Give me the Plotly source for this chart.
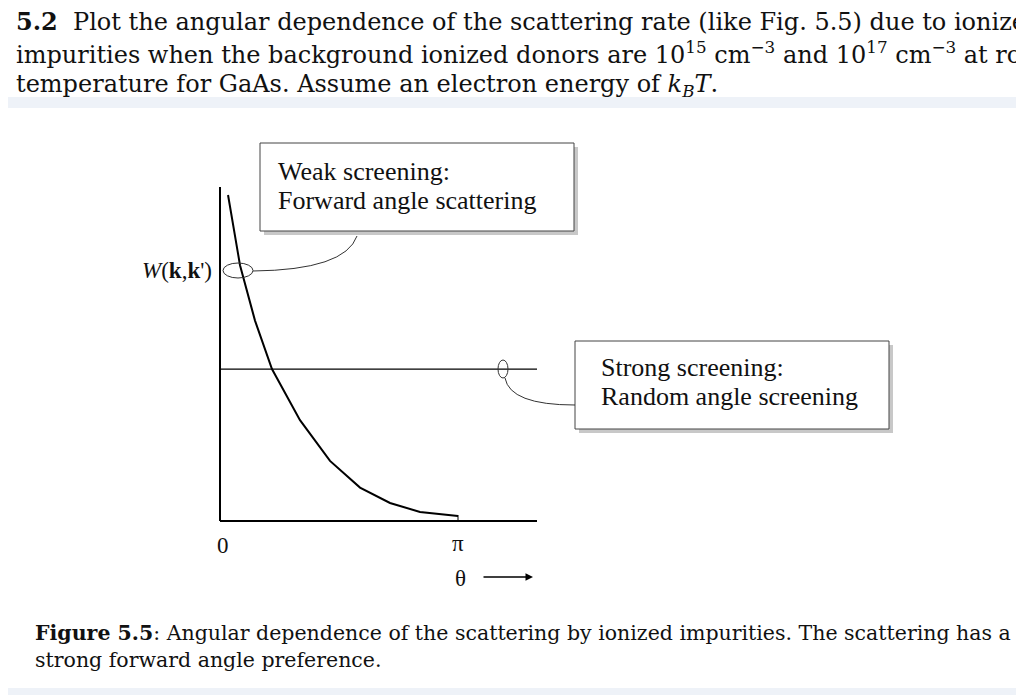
import plotly.graph_objects as go

# Data (normalized scattering rate vs angle)
theta = [0.106, 0.264, 0.462, 0.686, 1.056, 1.452, 1.848, 2.244, 2.64, 3.1416]
w_weak = [0.976, 0.766, 0.60, 0.455, 0.302, 0.18, 0.10, 0.054, 0.027, 0.015]
theta_strong = [0.0, 4.184]
w_strong = [0.455, 0.455]

W, H = 1024, 695
OFF = 8  # page body margin
FW, FH = W - OFF, H - OFF
SERIF = "Liberation Serif, DejaVu Serif, serif"
CM = "DejaVu Serif, serif"

def px(p):
    return (p - OFF) / FW

def py(p):
    return 1 - (p - OFF) / FH

fig = go.Figure()
fig.add_trace(go.Scatter(x=[OFF, W], y=[OFF, H], mode="markers", marker=dict(opacity=0),
                         hoverinfo="skip", showlegend=False))
fig.add_trace(go.Scatter(x=theta, y=w_weak, mode="lines", line=dict(color="black", width=2),
                         xaxis="x2", yaxis="y2", showlegend=False))
fig.add_trace(go.Scatter(x=theta_strong, y=w_strong, mode="lines", line=dict(color="black", width=1.2),
                         xaxis="x2", yaxis="y2", showlegend=False))

ax_hidden = dict(visible=False, showgrid=False, zeroline=False)
fig.update_layout(
    width=FW, height=FH, margin=dict(l=0, r=0, t=0, b=0),
    paper_bgcolor="white", plot_bgcolor="rgba(0,0,0,0)",
    xaxis=dict(range=[OFF, W], domain=[0, 1], **ax_hidden),
    yaxis=dict(range=[H, OFF], domain=[0, 1], **ax_hidden),
    xaxis2=dict(range=[0, 4.184], domain=[px(220), px(537)], anchor="y2",
                showgrid=False, zeroline=False, showline=False, ticks="", showticklabels=False),
    yaxis2=dict(range=[0, 1], domain=[py(521), py(187)], anchor="x2",
                showgrid=False, zeroline=False, showline=False, ticks="", showticklabels=False),
)

shapes = []
shapes.append(dict(type="rect", x0=0, x1=W, y0=97, y1=108, fillcolor="#eef2f8", line_width=0, layer="below"))
shapes.append(dict(type="rect", x0=0, x1=W, y0=688, y1=695, fillcolor="#eef2f8", line_width=0, layer="below"))
shapes.append(dict(type="line", x0=220, x1=220, y0=187, y1=521, line=dict(color="black", width=2)))
shapes.append(dict(type="line", x0=220, x1=537, y0=521, y1=521, line=dict(color="black", width=2)))
shapes.append(dict(type="line", x0=458, x1=458, y0=515, y1=521, line=dict(color="black", width=1)))
for (x0, y0, x1, y1) in [(260, 143, 574, 231), (575, 341, 889, 429)]:
    shapes.append(dict(type="rect", x0=x0 + 4, y0=y0 + 4, x1=x1 + 4, y1=y1 + 4,
                       fillcolor="#c8c8c8", line_width=0))
    shapes.append(dict(type="rect", x0=x0, y0=y0, x1=x1, y1=y1, fillcolor="white",
                       line=dict(color="#444", width=1)))
shapes.append(dict(type="circle", x0=223, x1=253, y0=263, y1=278, line=dict(color="#333", width=1)))
shapes.append(dict(type="circle", x0=498, x1=508, y0=360, y1=378, line=dict(color="#333", width=1)))
shapes.append(dict(type="path", path="M 253 271 Q 345 270 357 236", line=dict(color="#333", width=1)))
shapes.append(dict(type="path", path="M 505 378 Q 510 405 575 405", line=dict(color="#333", width=1)))
fig.update_layout(shapes=shapes)

ann = []
def t(x, y, s, size, xanchor="left", family=SERIF, color="#111"):
    ann.append(dict(x=x, y=y, xref="x", yref="y", text=s, showarrow=False, xanchor=xanchor,
                    yanchor="middle", font=dict(family=family, size=size, color=color), align="left"))

t(14, 21, "<b>5.2</b>  Plot the angular dependence of the scattering rate (like Fig. 5.5) due to ionized", 24, family=CM)
t(14, 53, "impurities when the background ionized donors are 10<sup>15</sup> cm<sup>−3</sup> and 10<sup>17</sup> cm<sup>−3</sup> at room", 24, family=CM)
t(14, 85, "temperature for GaAs. Assume an electron energy of <i>k<sub>B</sub>T</i>.", 24, family=CM)

t(276, 171, "Weak screening:", 26)
t(276, 200, "Forward angle scattering", 26)
t(599, 367, "Strong screening:", 26)
t(599, 396, "Random angle screening", 26)
t(214, 270, "<i>W</i>(<b>k</b>,<b>k</b>')", 23, xanchor="right")
t(223, 545, "0", 23, xanchor="center")
t(458, 543, "π", 23, xanchor="center")
t(460, 578, "θ", 23, xanchor="center")
t(33, 633, "<b>Figure 5.5</b>: Angular dependence of the scattering by ionized impurities. The scattering has a", 20.5, family=CM)
t(33, 660, "strong forward angle preference.", 20.5, family=CM)
ann.append(dict(x=533, y=577, ax=482, ay=577, xref="x", yref="y", axref="x", ayref="y",
                showarrow=True, arrowhead=2, arrowsize=1, arrowwidth=1.5, arrowcolor="black", text=""))
fig.update_layout(annotations=ann)

fig.write_html("out.html")
